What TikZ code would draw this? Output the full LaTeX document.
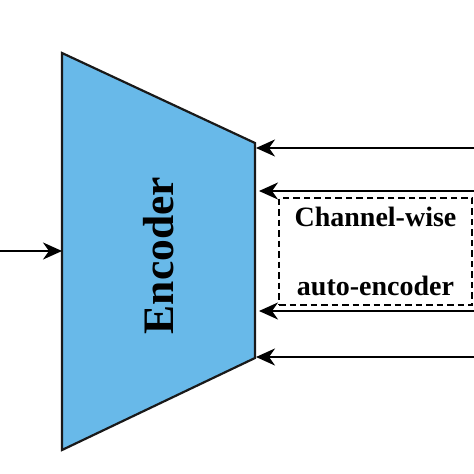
\documentclass[tikz,border=0pt]{standalone}
\usepackage{fontspec}
\setmainfont{Liberation Serif}
\usetikzlibrary{arrows.meta}

\tikzset{
    link/.style={line width=2.4pt, -{Stealth[length=19pt, width=17pt, inset=6pt]}},
    encbody/.style={draw=black!90, line width=2.2pt, fill=encblue, line join=miter},
    aebox/.style={draw, dashed, dash pattern=on 6.5pt off 4pt, line width=2.4pt, minimum width=193pt, minimum height=107pt, align=center, inner sep=0pt}
}
\definecolor{encblue}{RGB}{104,185,233}

\begin{document}
\begin{tikzpicture}[x=1pt, y=-1pt]
    \useasboundingbox (0,0) rectangle (474,474);

    % Encoder body
    \coordinate (tl) at (62,53);
    \coordinate (bl) at (62,450);
    \coordinate (tr) at (255,143);
    \coordinate (br) at (255,358);
    \draw[encbody] (tl) -- (tr) -- (br) -- (bl) -- cycle;
    \node[rotate=90, font=\fontsize{43.5}{43.5}\selectfont\bfseries] (enc) at (158.5,255.5) {Encoder};

    % Channel-wise auto-encoder
    \node[aebox, font=\fontsize{28}{69}\selectfont\bfseries] (cae) at (375.5,251.5) {Channel-wise\\auto-encoder};

    % Input arrow
    \coordinate (in) at (0,251);
    \coordinate (encin) at (62,251);
    \draw[link] (in) -- (encin);

    % Arrows back into the encoder
    \coordinate (s1) at (474,148);
    \coordinate (s2) at (474,191);
    \coordinate (s3) at (474,311);
    \coordinate (s4) at (474,357);
    \coordinate (e1) at (256,148);
    \coordinate (e2) at (259,191);
    \coordinate (e3) at (259,311);
    \coordinate (e4) at (256,357);
    \draw[link] (s1) -- (e1);
    \draw[link] (s2) -- (e2);
    \draw[link] (s3) -- (e3);
    \draw[link] (s4) -- (e4);
\end{tikzpicture}
\end{document}
